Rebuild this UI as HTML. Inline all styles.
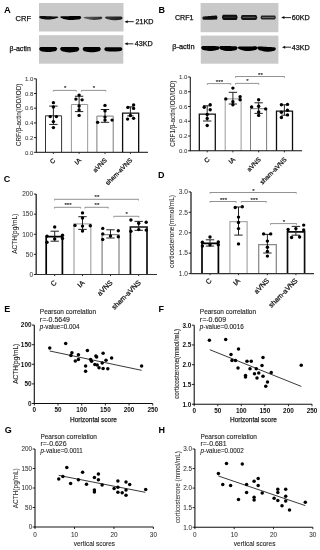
<!DOCTYPE html>
<html><head><meta charset="utf-8"><title>Figure</title>
<style>
html,body{margin:0;padding:0;background:#fff;}
svg{display:block;}
text{font-family:"Liberation Sans", Arial, sans-serif;}
</style></head><body>
<svg width="320" height="550" viewBox="0 0 320 550">
<defs><filter id="soft" x="0" y="0" width="100%" height="100%"><feGaussianBlur stdDeviation="0.3"/></filter><filter id="bl" x="-10%" y="-50%" width="120%" height="200%"><feGaussianBlur stdDeviation="0.6"/></filter><linearGradient id="g0" x1="0" x2="1" y1="0" y2="0"><stop offset="0" stop-color="#666666"/><stop offset="1" stop-color="#2a2a2a"/></linearGradient><linearGradient id="g1" x1="0" x2="1" y1="0" y2="0"><stop offset="0" stop-color="#3a3a3a"/><stop offset="1" stop-color="#1a1a1a"/></linearGradient><linearGradient id="g2" x1="0" x2="1" y1="0" y2="0"><stop offset="0" stop-color="#151515"/><stop offset="1" stop-color="#060606"/></linearGradient></defs>
<rect x="0" y="0" width="320" height="550" fill="#fff"/>
<g filter="url(#soft)">
<rect x="39" y="3" width="84.5" height="28.5" fill="#c9c9c9"/>
<rect x="39" y="35.2" width="84.3" height="28.5" fill="#c9c9c9"/>
<rect x="200.6" y="3" width="77.8" height="29.2" fill="#c9c9c9"/>
<rect x="200.8" y="35.6" width="77.6" height="28.1" fill="#c9c9c9"/>
<g filter="url(#bl)">
<polygon points="39.00,17.00 39.82,16.20 40.63,15.88 41.45,15.91 42.27,15.95 43.08,15.99 43.90,16.02 44.72,16.06 45.53,16.10 46.35,16.14 47.17,16.18 47.98,16.21 48.80,16.25 49.62,16.29 50.43,16.32 51.25,16.36 52.07,16.40 52.88,16.44 53.70,16.48 54.52,16.51 55.33,16.55 56.15,16.59 56.97,16.62 57.78,16.83 58.60,17.15 58.60,17.15 57.78,17.67 56.97,18.07 56.15,18.29 55.33,18.51 54.52,18.71 53.70,18.90 52.88,19.07 52.07,19.22 51.25,19.34 50.43,19.44 49.62,19.52 48.80,19.56 47.98,19.58 47.17,19.57 46.35,19.53 45.53,19.47 44.72,19.37 43.90,19.26 43.08,19.12 42.27,18.96 41.45,18.78 40.63,18.60 39.82,18.03 39.00,17.00" fill="#080808"/>
<polygon points="60.00,17.00 60.89,16.50 61.78,16.27 62.67,16.25 63.57,16.23 64.46,16.22 65.35,16.20 66.24,16.18 67.13,16.17 68.03,16.15 68.92,16.13 69.81,16.12 70.70,16.10 71.59,16.08 72.48,16.07 73.38,16.05 74.27,16.03 75.16,16.02 76.05,16.00 76.94,15.98 77.83,15.97 78.73,15.95 79.62,15.93 80.51,16.33 81.40,17.50 81.40,17.50 80.51,18.79 79.62,19.31 78.73,19.42 77.83,19.52 76.94,19.61 76.05,19.69 75.16,19.77 74.27,19.84 73.38,19.90 72.48,19.94 71.59,19.98 70.70,20.00 69.81,20.00 68.92,19.95 68.03,19.86 67.13,19.73 66.24,19.57 65.35,19.37 64.46,19.14 63.57,18.88 62.67,18.61 61.78,18.31 60.89,17.79 60.00,17.00" fill="#060606"/>
<polygon points="83.30,17.45 84.10,17.08 84.90,16.88 85.70,16.86 86.50,16.85 87.30,16.84 88.10,16.82 88.90,16.81 89.70,16.80 90.50,16.79 91.30,16.77 92.10,16.76 92.90,16.75 93.70,16.74 94.50,16.73 95.30,16.71 96.10,16.70 96.90,16.69 97.70,16.68 98.50,16.66 99.30,16.65 100.10,16.64 100.90,16.62 101.70,16.97 102.50,17.75 102.50,17.75 101.70,18.70 100.90,19.21 100.10,19.36 99.30,19.50 98.50,19.62 97.70,19.72 96.90,19.81 96.10,19.87 95.30,19.91 94.50,19.92 93.70,19.91 92.90,19.88 92.10,19.82 91.30,19.74 90.50,19.63 89.70,19.51 88.90,19.36 88.10,19.20 87.30,19.03 86.50,18.84 85.70,18.64 84.90,18.43 84.10,18.02 83.30,17.45" fill="url(#g0)"/>
<polygon points="104.70,17.40 105.45,16.89 106.20,16.62 106.95,16.59 107.70,16.58 108.45,16.58 109.20,16.58 109.95,16.57 110.70,16.57 111.45,16.56 112.20,16.56 112.95,16.55 113.70,16.55 114.45,16.55 115.20,16.54 115.95,16.54 116.70,16.53 117.45,16.53 118.20,16.52 118.95,16.52 119.70,16.52 120.45,16.51 121.20,16.56 121.95,16.98 122.70,17.95 122.70,17.95 121.95,19.04 121.20,19.59 120.45,19.75 119.70,19.86 118.95,19.95 118.20,20.04 117.45,20.11 116.70,20.17 115.95,20.21 115.20,20.24 114.45,20.25 113.70,20.23 112.95,20.18 112.20,20.11 111.45,20.01 110.70,19.88 109.95,19.72 109.20,19.55 108.45,19.36 107.70,19.15 106.95,18.92 106.20,18.65 105.45,18.15 104.70,17.40" fill="url(#g1)"/>
<polygon points="39.10,48.90 39.86,47.62 40.62,47.05 41.38,47.00 42.13,47.00 42.89,47.00 43.65,47.00 44.41,47.00 45.17,47.00 45.92,47.00 46.68,47.00 47.44,47.00 48.20,47.00 48.96,47.00 49.72,47.00 50.47,47.00 51.23,47.00 51.99,47.00 52.75,47.00 53.51,47.00 54.27,47.00 55.02,47.00 55.78,47.05 56.54,47.59 57.30,48.80 57.30,48.80 56.54,50.19 55.78,50.91 55.02,51.14 54.27,51.30 53.51,51.45 52.75,51.59 51.99,51.71 51.23,51.81 50.47,51.89 49.72,51.95 48.96,51.99 48.20,52.00 47.44,51.99 46.68,51.96 45.92,51.91 45.17,51.84 44.41,51.75 43.65,51.65 42.89,51.53 42.13,51.40 41.38,51.26 40.62,51.06 39.86,50.34 39.10,48.90" fill="#030303"/>
<polygon points="60.00,48.80 60.81,47.55 61.62,47.00 62.42,47.00 63.23,47.00 64.04,47.00 64.85,47.00 65.66,47.00 66.47,47.00 67.28,47.00 68.08,47.00 68.89,47.00 69.70,47.00 70.51,47.00 71.32,47.00 72.12,47.00 72.93,47.00 73.74,47.00 74.55,47.00 75.36,47.00 76.17,47.00 76.98,47.00 77.78,47.00 78.59,47.60 79.40,49.00 79.40,49.00 78.59,50.58 77.78,51.36 76.98,51.54 76.17,51.70 75.36,51.85 74.55,51.99 73.74,52.11 72.93,52.21 72.12,52.29 71.32,52.35 70.51,52.39 69.70,52.40 68.89,52.38 68.08,52.34 67.28,52.26 66.47,52.16 65.66,52.03 64.85,51.87 64.04,51.70 63.23,51.50 62.42,51.29 61.62,51.07 60.81,50.28 60.00,48.80" fill="#030303"/>
<polygon points="82.60,48.90 83.36,47.62 84.12,47.05 84.89,47.00 85.65,47.00 86.41,47.00 87.17,47.00 87.94,47.00 88.70,47.00 89.46,47.00 90.22,47.00 90.99,47.00 91.75,47.00 92.51,47.00 93.28,47.00 94.04,47.00 94.80,47.00 95.56,47.00 96.33,47.00 97.09,47.00 97.85,47.00 98.61,47.00 99.38,47.05 100.14,47.62 100.90,48.90 100.90,48.90 100.14,50.38 99.38,51.14 98.61,51.37 97.85,51.55 97.09,51.71 96.33,51.86 95.56,51.99 94.80,52.10 94.04,52.19 93.28,52.25 92.51,52.29 91.75,52.30 90.99,52.29 90.22,52.25 89.46,52.19 88.70,52.10 87.94,51.99 87.17,51.86 86.41,51.71 85.65,51.55 84.89,51.37 84.12,51.14 83.36,50.38 82.60,48.90" fill="#030303"/>
<polygon points="104.20,49.10 104.96,47.87 105.73,47.34 106.49,47.30 107.25,47.30 108.01,47.30 108.78,47.30 109.54,47.30 110.30,47.30 111.06,47.30 111.83,47.30 112.59,47.30 113.35,47.30 114.11,47.30 114.88,47.30 115.64,47.30 116.40,47.30 117.16,47.30 117.92,47.30 118.69,47.30 119.45,47.30 120.21,47.30 120.97,47.34 121.74,47.84 122.50,49.00 122.50,49.00 121.74,50.27 120.97,50.89 120.21,51.04 119.45,51.15 118.69,51.25 117.92,51.34 117.16,51.41 116.40,51.48 115.64,51.53 114.88,51.57 114.11,51.59 113.35,51.60 112.59,51.59 111.83,51.58 111.06,51.55 110.30,51.51 109.54,51.46 108.78,51.39 108.01,51.33 107.25,51.25 106.49,51.17 105.73,51.04 104.96,50.42 104.20,49.10" fill="#050505"/>
<polygon points="202.20,18.10 202.84,16.86 203.47,16.50 204.11,16.45 204.75,16.40 205.39,16.35 206.02,16.30 206.66,16.25 207.30,16.20 207.94,16.15 208.57,16.10 209.21,16.05 209.85,16.00 210.49,15.95 211.12,15.90 211.76,15.85 212.40,15.80 213.04,15.75 213.68,15.70 214.31,15.65 214.95,15.60 215.59,15.55 216.22,15.50 216.86,15.87 217.50,17.55 217.50,17.55 216.86,19.24 216.22,19.63 215.59,19.61 214.95,19.59 214.31,19.60 213.68,19.61 213.04,19.65 212.40,19.70 211.76,19.74 211.12,19.77 210.49,19.79 209.85,19.81 209.21,19.82 208.57,19.82 207.94,19.82 207.30,19.81 206.66,19.80 206.02,19.78 205.39,19.76 204.75,19.73 204.11,19.70 203.47,19.67 202.84,19.32 202.20,18.10" fill="url(#g2)"/>
<polygon points="221.90,17.30 222.55,15.28 223.21,14.80 223.86,14.80 224.52,14.80 225.17,14.80 225.82,14.80 226.48,14.80 227.13,14.80 227.79,14.80 228.44,14.80 229.10,14.80 229.75,14.80 230.40,14.80 231.06,14.80 231.71,14.80 232.37,14.80 233.02,14.80 233.68,14.80 234.33,14.80 234.98,14.80 235.64,14.80 236.29,14.80 236.95,15.29 237.60,17.35 237.60,17.35 236.95,19.42 236.29,19.93 235.64,19.94 234.98,19.95 234.33,19.96 233.68,19.97 233.02,19.98 232.37,19.99 231.71,19.99 231.06,20.00 230.40,20.00 229.75,20.00 229.10,20.00 228.44,19.99 227.79,19.98 227.13,19.97 226.48,19.96 225.82,19.94 225.17,19.92 224.52,19.90 223.86,19.88 223.21,19.85 222.55,19.35 221.90,17.30" fill="#0a0a0a"/>
<polygon points="240.80,17.40 241.49,15.41 242.18,15.00 242.86,15.00 243.55,15.00 244.24,15.00 244.93,15.00 245.61,15.00 246.30,15.00 246.99,15.00 247.68,15.00 248.36,15.00 249.05,15.00 249.74,15.00 250.43,15.00 251.11,15.00 251.80,15.00 252.49,15.00 253.18,15.00 253.86,15.00 254.55,15.00 255.24,15.00 255.93,15.00 256.61,15.41 257.30,17.40 257.30,17.40 256.61,19.41 255.93,19.85 255.24,19.88 254.55,19.90 253.86,19.92 253.18,19.94 252.49,19.96 251.80,19.97 251.11,19.98 250.43,19.99 249.74,20.00 249.05,20.00 248.36,20.00 247.68,19.99 246.99,19.98 246.30,19.97 245.61,19.96 244.93,19.94 244.24,19.92 243.55,19.90 242.86,19.88 242.18,19.85 241.49,19.41 240.80,17.40" fill="#141414"/>
<polygon points="260.50,17.40 261.14,15.80 261.78,15.40 262.43,15.40 263.07,15.40 263.71,15.40 264.35,15.40 264.99,15.40 265.63,15.40 266.27,15.40 266.92,15.40 267.56,15.40 268.20,15.40 268.84,15.40 269.48,15.40 270.12,15.40 270.77,15.40 271.41,15.40 272.05,15.40 272.69,15.40 273.33,15.40 273.97,15.40 274.62,15.40 275.26,15.81 275.90,17.45 275.90,17.45 275.26,19.10 274.62,19.53 273.97,19.54 273.33,19.55 272.69,19.56 272.05,19.57 271.41,19.58 270.77,19.59 270.12,19.59 269.48,19.60 268.84,19.60 268.20,19.60 267.56,19.60 266.92,19.59 266.27,19.58 265.63,19.57 264.99,19.56 264.35,19.54 263.71,19.52 263.07,19.50 262.43,19.48 261.78,19.45 261.14,19.03 260.50,17.40" fill="#262626"/>
<polygon points="201.00,47.70 201.78,46.48 202.57,45.95 203.35,45.94 204.13,45.95 204.92,45.96 205.70,45.98 206.48,45.99 207.27,46.00 208.05,46.01 208.83,46.02 209.62,46.04 210.40,46.05 211.18,46.06 211.97,46.08 212.75,46.09 213.53,46.10 214.32,46.11 215.10,46.12 215.88,46.14 216.67,46.15 217.45,46.16 218.23,46.19 219.02,46.68 219.80,47.70 219.80,47.70 219.02,48.95 218.23,49.65 217.45,49.89 216.67,50.10 215.88,50.29 215.10,50.47 214.32,50.62 213.53,50.75 212.75,50.84 211.97,50.91 211.18,50.95 210.40,50.95 209.62,50.93 208.83,50.88 208.05,50.81 207.27,50.73 206.48,50.62 205.70,50.49 204.92,50.35 204.13,50.20 203.35,50.03 202.57,49.84 201.78,49.12 201.00,47.70" fill="#030303"/>
<polygon points="219.00,47.50 219.78,46.50 220.55,46.04 221.32,46.02 222.10,46.03 222.88,46.04 223.65,46.05 224.43,46.06 225.20,46.07 225.97,46.08 226.75,46.08 227.53,46.09 228.30,46.10 229.07,46.11 229.85,46.12 230.62,46.12 231.40,46.13 232.18,46.14 232.95,46.15 233.72,46.16 234.50,46.17 235.28,46.18 236.05,46.21 236.82,46.77 237.60,48.00 237.60,48.00 236.82,49.40 236.05,50.11 235.28,50.31 234.50,50.47 233.72,50.61 232.95,50.74 232.18,50.85 231.40,50.95 230.62,51.02 229.85,51.07 229.07,51.10 228.30,51.10 227.53,51.07 226.75,51.02 225.97,50.92 225.20,50.80 224.43,50.65 223.65,50.46 222.88,50.26 222.10,50.03 221.32,49.79 220.55,49.51 219.78,48.77 219.00,47.50" fill="#030303"/>
<polygon points="237.40,47.50 238.24,46.88 239.08,46.58 239.93,46.56 240.77,46.55 241.61,46.54 242.45,46.52 243.29,46.51 244.13,46.50 244.98,46.49 245.82,46.48 246.66,46.46 247.50,46.45 248.34,46.44 249.18,46.42 250.03,46.41 250.87,46.40 251.71,46.39 252.55,46.38 253.39,46.36 254.23,46.35 255.08,46.34 255.92,46.32 256.76,46.78 257.60,47.90 257.60,47.90 256.76,49.23 255.92,49.89 255.08,50.07 254.23,50.25 253.39,50.41 252.55,50.56 251.71,50.70 250.87,50.81 250.03,50.91 249.18,50.98 248.34,51.03 247.50,51.05 246.66,51.04 245.82,50.98 244.98,50.87 244.13,50.72 243.29,50.53 242.45,50.30 241.61,50.04 240.77,49.75 239.93,49.43 239.08,49.10 238.24,48.46 237.40,47.50" fill="#030303"/>
<polygon points="257.00,47.80 257.79,46.83 258.58,46.40 259.38,46.44 260.17,46.48 260.96,46.53 261.75,46.57 262.54,46.62 263.33,46.67 264.12,46.71 264.92,46.76 265.71,46.80 266.50,46.85 267.29,46.90 268.08,46.94 268.88,46.99 269.67,47.03 270.46,47.08 271.25,47.12 272.04,47.17 272.83,47.22 273.62,47.26 274.42,47.32 275.21,47.83 276.00,48.90 276.00,48.90 275.21,50.11 274.42,50.77 273.62,50.95 272.83,51.12 272.04,51.27 271.25,51.40 270.46,51.51 269.67,51.59 268.88,51.65 268.08,51.68 267.29,51.68 266.50,51.65 265.71,51.59 264.92,51.50 264.12,51.38 263.33,51.23 262.54,51.05 261.75,50.85 260.96,50.62 260.17,50.38 259.38,50.13 258.58,49.85 257.79,49.10 257.00,47.80" fill="#030303"/>
</g>
<rect x="223.5" y="16.75" width="12.5" height="1.1" rx="0.5" fill="#3a3a3a" opacity="0.85" filter="url(#bl)"/>
<rect x="242.5" y="16.849999999999998" width="13.0" height="1.1" rx="0.5" fill="#5a5a5a" opacity="0.85" filter="url(#bl)"/>
<rect x="262" y="16.95" width="12.5" height="1.1" rx="0.5" fill="#707070" opacity="0.85" filter="url(#bl)"/>
<text x="4.1" y="12.7" font-size="9.4" text-anchor="start" font-weight="bold" fill="#000">A</text>
<text x="15.6" y="20.6" font-size="7.5" text-anchor="start" fill="#111" stroke="#111" stroke-width="0.25">CRF</text>
<text x="9.6" y="50.6" font-size="7.3" text-anchor="start" fill="#111" stroke="#111" stroke-width="0.25" textLength="21.2" lengthAdjust="spacingAndGlyphs">β-actin</text>
<line x1="127.0" y1="21.65" x2="133.8" y2="21.65" stroke="#111" stroke-width="0.9"/>
<polygon points="124.5,21.65 127.7,20.15 127.7,23.15" fill="#111"/>
<text x="135.4" y="23.8" font-size="7.2" text-anchor="start" fill="#111" stroke="#111" stroke-width="0.25">21KD</text>
<line x1="127.0" y1="43.8" x2="133.3" y2="43.8" stroke="#111" stroke-width="0.9"/>
<polygon points="124.5,43.8 127.7,42.3 127.7,45.3" fill="#111"/>
<text x="134.8" y="46.0" font-size="7.2" text-anchor="start" fill="#111" stroke="#111" stroke-width="0.25">43KD</text>
<text x="158.6" y="12.6" font-size="9" text-anchor="start" font-weight="bold" fill="#000">B</text>
<text x="175.0" y="20.2" font-size="7.1" text-anchor="start" fill="#111" stroke="#111" stroke-width="0.25">CRF1</text>
<text x="172.2" y="48.7" font-size="7.4" text-anchor="start" fill="#111" stroke="#111" stroke-width="0.25">β-actin</text>
<line x1="283.7" y1="17.6" x2="291" y2="17.6" stroke="#111" stroke-width="0.9"/>
<polygon points="281.2,17.6 284.4,16.1 284.4,19.1" fill="#111"/>
<text x="291.7" y="19.8" font-size="7.2" text-anchor="start" fill="#111" stroke="#111" stroke-width="0.25">60KD</text>
<line x1="284.5" y1="47.2" x2="291" y2="47.2" stroke="#111" stroke-width="0.9"/>
<polygon points="282,47.2 285.2,45.7 285.2,48.7" fill="#111"/>
<text x="291.7" y="49.6" font-size="7.2" text-anchor="start" fill="#111" stroke="#111" stroke-width="0.25">43KD</text>
<polyline points="53.3,91.60000000000001 53.3,90.4 76.3,90.4 76.3,91.60000000000001" fill="none" stroke="#777" stroke-width="0.8"/>
<text x="65.2" y="90.4" font-size="6.2" text-anchor="middle" fill="#222" stroke="#222" stroke-width="0.15">*</text>
<polyline points="81.5,91.60000000000001 81.5,90.4 105.8,90.4 105.8,91.60000000000001" fill="none" stroke="#777" stroke-width="0.8"/>
<text x="94.05000000000001" y="90.4" font-size="6.2" text-anchor="middle" fill="#222" stroke="#222" stroke-width="0.15">*</text>
<line x1="36.3" y1="78.8" x2="36.3" y2="152.8" stroke="#111" stroke-width="1.0"/>
<line x1="34.0" y1="152.3" x2="36.3" y2="152.3" stroke="#111" stroke-width="0.9"/>
<text x="33.3" y="154.5" font-size="6.0" text-anchor="end" fill="#3a3a3a" stroke="#3a3a3a" stroke-width="0.05">0.0</text>
<line x1="34.0" y1="137.60000000000002" x2="36.3" y2="137.60000000000002" stroke="#111" stroke-width="0.9"/>
<text x="33.3" y="139.8" font-size="6.0" text-anchor="end" fill="#3a3a3a" stroke="#3a3a3a" stroke-width="0.05">0.2</text>
<line x1="34.0" y1="122.9" x2="36.3" y2="122.9" stroke="#111" stroke-width="0.9"/>
<text x="33.3" y="125.10000000000001" font-size="6.0" text-anchor="end" fill="#3a3a3a" stroke="#3a3a3a" stroke-width="0.05">0.4</text>
<line x1="34.0" y1="108.2" x2="36.3" y2="108.2" stroke="#111" stroke-width="0.9"/>
<text x="33.3" y="110.4" font-size="6.0" text-anchor="end" fill="#3a3a3a" stroke="#3a3a3a" stroke-width="0.05">0.6</text>
<line x1="34.0" y1="93.5" x2="36.3" y2="93.5" stroke="#111" stroke-width="0.9"/>
<text x="33.3" y="95.7" font-size="6.0" text-anchor="end" fill="#3a3a3a" stroke="#3a3a3a" stroke-width="0.05">0.8</text>
<line x1="34.0" y1="78.8" x2="36.3" y2="78.8" stroke="#111" stroke-width="0.9"/>
<text x="33.3" y="81.0" font-size="6.0" text-anchor="end" fill="#3a3a3a" stroke="#3a3a3a" stroke-width="0.05">1.0</text>
<line x1="53.4" y1="152.3" x2="53.4" y2="153.9" stroke="#111" stroke-width="0.9"/>
<line x1="79.1" y1="152.3" x2="79.1" y2="153.9" stroke="#111" stroke-width="0.9"/>
<line x1="105" y1="152.3" x2="105" y2="153.9" stroke="#111" stroke-width="0.9"/>
<line x1="130.4" y1="152.3" x2="130.4" y2="153.9" stroke="#111" stroke-width="0.9"/>
<path d="M45.5,152.3 L45.5,115.8 L61.6,115.8 L61.6,152.3" fill="#fff" stroke="#333" stroke-width="1.0" stroke-linejoin="miter"/>
<path d="M71.4,152.3 L71.4,104.5 L87.65,104.5 L87.65,152.3" fill="#fff" stroke="#9a9a9a" stroke-width="1.0" stroke-linejoin="miter"/>
<path d="M96.9,152.3 L96.9,116.1 L113.2,116.1 L113.2,152.3" fill="#fff" stroke="#7a7a7a" stroke-width="1.0" stroke-linejoin="miter"/>
<path d="M122.6,152.3 L122.6,113.1 L138.65,113.1 L138.65,152.3" fill="#fff" stroke="#111" stroke-width="1.3" stroke-linejoin="miter"/>
<line x1="36.3" y1="152.3" x2="148" y2="152.3" stroke="#111" stroke-width="1.0"/>
<line x1="53.4" y1="106.1" x2="53.4" y2="124.4" stroke="#222" stroke-width="1.0"/>
<line x1="49.199999999999996" y1="106.1" x2="57.6" y2="106.1" stroke="#222" stroke-width="1.0"/>
<line x1="49.199999999999996" y1="124.4" x2="57.6" y2="124.4" stroke="#222" stroke-width="1.0"/>
<circle cx="53.4" cy="102.65" r="1.7" fill="#000"/>
<circle cx="53.4" cy="107" r="1.7" fill="#000"/>
<circle cx="50.25" cy="116.6" r="1.7" fill="#000"/>
<circle cx="56.4" cy="116.6" r="1.7" fill="#000"/>
<circle cx="53.4" cy="121.6" r="1.7" fill="#000"/>
<circle cx="53.4" cy="127.6" r="1.7" fill="#000"/>
<line x1="79.1" y1="96.25" x2="79.1" y2="111.6" stroke="#222" stroke-width="1.0"/>
<line x1="74.89999999999999" y1="96.25" x2="83.3" y2="96.25" stroke="#222" stroke-width="1.0"/>
<line x1="74.89999999999999" y1="111.6" x2="83.3" y2="111.6" stroke="#222" stroke-width="1.0"/>
<circle cx="79.1" cy="95.1" r="1.7" fill="#000"/>
<circle cx="75.9" cy="99.1" r="1.7" fill="#000"/>
<circle cx="82.1" cy="99.85" r="1.7" fill="#000"/>
<circle cx="79.1" cy="106" r="1.7" fill="#000"/>
<circle cx="79.1" cy="109.9" r="1.7" fill="#000"/>
<circle cx="79.1" cy="115.4" r="1.7" fill="#000"/>
<line x1="105" y1="109.5" x2="105" y2="122.3" stroke="#222" stroke-width="1.0"/>
<line x1="100.8" y1="109.5" x2="109.2" y2="109.5" stroke="#222" stroke-width="1.0"/>
<line x1="100.8" y1="122.3" x2="109.2" y2="122.3" stroke="#222" stroke-width="1.0"/>
<circle cx="105" cy="105.4" r="1.7" fill="#000"/>
<circle cx="105" cy="110.9" r="1.7" fill="#000"/>
<circle cx="105" cy="117.1" r="1.7" fill="#000"/>
<circle cx="105" cy="120.1" r="1.7" fill="#000"/>
<circle cx="97.65" cy="122.35" r="1.7" fill="#000"/>
<circle cx="112.1" cy="120.1" r="1.7" fill="#000"/>
<line x1="130.4" y1="106.9" x2="130.4" y2="115.9" stroke="#222" stroke-width="1.0"/>
<line x1="127.2" y1="106.9" x2="133.6" y2="106.9" stroke="#222" stroke-width="1.0"/>
<line x1="127.2" y1="115.9" x2="133.6" y2="115.9" stroke="#222" stroke-width="1.0"/>
<circle cx="127.85" cy="107.4" r="1.7" fill="#000"/>
<circle cx="133.6" cy="105" r="1.7" fill="#000"/>
<circle cx="133.6" cy="108.4" r="1.7" fill="#000"/>
<circle cx="130.4" cy="115.5" r="1.7" fill="#000"/>
<circle cx="127.6" cy="119.1" r="1.7" fill="#000"/>
<circle cx="133.6" cy="118.35" r="1.7" fill="#000"/>
<text x="20.7" y="114.85" font-size="6.35" text-anchor="middle" fill="#222" stroke="#222" stroke-width="0.06" transform="rotate(-90 20.7 114.85)">CRF/β-actin(IOD/IOD)</text>
<text x="55.8" y="160.8" font-size="6.5" text-anchor="end" fill="#111" stroke="#111" stroke-width="0.25" transform="rotate(-45 55.8 160.8)">C</text>
<text x="81.5" y="160.8" font-size="6.5" text-anchor="end" fill="#111" stroke="#111" stroke-width="0.25" transform="rotate(-45 81.5 160.8)">IA</text>
<text x="107.4" y="160.8" font-size="6.5" text-anchor="end" fill="#111" stroke="#111" stroke-width="0.25" transform="rotate(-45 107.4 160.8)">aVNS</text>
<text x="132.8" y="160.8" font-size="6.5" text-anchor="end" fill="#111" stroke="#111" stroke-width="0.25" transform="rotate(-45 132.8 160.8)">sham-aVNS</text>
<polyline points="207.3,84.8 207.3,83.6 230.8,83.6 230.8,84.8" fill="none" stroke="#777" stroke-width="0.8"/>
<text x="219.45000000000002" y="83.6" font-size="6.2" text-anchor="middle" fill="#222" stroke="#222" stroke-width="0.15">***</text>
<polyline points="235.5,84.60000000000001 235.5,83.4 258.8,83.4 258.8,84.60000000000001" fill="none" stroke="#777" stroke-width="0.8"/>
<text x="247.55" y="83.4" font-size="6.2" text-anchor="middle" fill="#222" stroke="#222" stroke-width="0.15">*</text>
<polyline points="235.5,77.7 235.5,76.5 284.5,76.5 284.5,77.7" fill="none" stroke="#777" stroke-width="0.8"/>
<text x="260.4" y="76.5" font-size="6.2" text-anchor="middle" fill="#222" stroke="#222" stroke-width="0.15">**</text>
<line x1="190.3" y1="77.0" x2="190.3" y2="151.25" stroke="#111" stroke-width="1.0"/>
<line x1="188.0" y1="150.75" x2="190.3" y2="150.75" stroke="#111" stroke-width="0.9"/>
<text x="187.3" y="152.95" font-size="6.0" text-anchor="end" fill="#3a3a3a" stroke="#3a3a3a" stroke-width="0.05">0.0</text>
<line x1="188.0" y1="136.0" x2="190.3" y2="136.0" stroke="#111" stroke-width="0.9"/>
<text x="187.3" y="138.2" font-size="6.0" text-anchor="end" fill="#3a3a3a" stroke="#3a3a3a" stroke-width="0.05">0.2</text>
<line x1="188.0" y1="121.25" x2="190.3" y2="121.25" stroke="#111" stroke-width="0.9"/>
<text x="187.3" y="123.45" font-size="6.0" text-anchor="end" fill="#3a3a3a" stroke="#3a3a3a" stroke-width="0.05">0.4</text>
<line x1="188.0" y1="106.5" x2="190.3" y2="106.5" stroke="#111" stroke-width="0.9"/>
<text x="187.3" y="108.7" font-size="6.0" text-anchor="end" fill="#3a3a3a" stroke="#3a3a3a" stroke-width="0.05">0.6</text>
<line x1="188.0" y1="91.75" x2="190.3" y2="91.75" stroke="#111" stroke-width="0.9"/>
<text x="187.3" y="93.95" font-size="6.0" text-anchor="end" fill="#3a3a3a" stroke="#3a3a3a" stroke-width="0.05">0.8</text>
<line x1="188.0" y1="77.0" x2="190.3" y2="77.0" stroke="#111" stroke-width="0.9"/>
<text x="187.3" y="79.2" font-size="6.0" text-anchor="end" fill="#3a3a3a" stroke="#3a3a3a" stroke-width="0.05">1.0</text>
<line x1="207.2" y1="150.75" x2="207.2" y2="152.35" stroke="#111" stroke-width="0.9"/>
<line x1="232.9" y1="150.75" x2="232.9" y2="152.35" stroke="#111" stroke-width="0.9"/>
<line x1="258.65" y1="150.75" x2="258.65" y2="152.35" stroke="#111" stroke-width="0.9"/>
<line x1="284.4" y1="150.75" x2="284.4" y2="152.35" stroke="#111" stroke-width="0.9"/>
<path d="M199.3,150.75 L199.3,114.2 L215.3,114.2 L215.3,150.75" fill="#fff" stroke="#111" stroke-width="1.3" stroke-linejoin="miter"/>
<path d="M225.2,150.75 L225.2,98.9 L241.1,98.9 L241.1,150.75" fill="#fff" stroke="#9a9a9a" stroke-width="1.0" stroke-linejoin="miter"/>
<path d="M250.5,150.75 L250.5,108.7 L266.6,108.7 L266.6,150.75" fill="#fff" stroke="#7a7a7a" stroke-width="1.0" stroke-linejoin="miter"/>
<path d="M276.5,150.75 L276.5,111.1 L292.5,111.1 L292.5,150.75" fill="#fff" stroke="#111" stroke-width="1.3" stroke-linejoin="miter"/>
<line x1="190.3" y1="150.75" x2="302" y2="150.75" stroke="#111" stroke-width="1.0"/>
<line x1="207.2" y1="105.8" x2="207.2" y2="121" stroke="#222" stroke-width="1.0"/>
<line x1="203.0" y1="105.8" x2="211.39999999999998" y2="105.8" stroke="#222" stroke-width="1.0"/>
<line x1="203.0" y1="121" x2="211.39999999999998" y2="121" stroke="#222" stroke-width="1.0"/>
<circle cx="204.2" cy="107.2" r="1.7" fill="#000"/>
<circle cx="210.2" cy="104.7" r="1.7" fill="#000"/>
<circle cx="210.2" cy="109.8" r="1.7" fill="#000"/>
<circle cx="207.2" cy="114.5" r="1.7" fill="#000"/>
<circle cx="207.2" cy="118.4" r="1.7" fill="#000"/>
<circle cx="207.2" cy="125.5" r="1.7" fill="#000"/>
<line x1="232.9" y1="92.3" x2="232.9" y2="104" stroke="#222" stroke-width="1.0"/>
<line x1="228.70000000000002" y1="92.3" x2="237.1" y2="92.3" stroke="#222" stroke-width="1.0"/>
<line x1="228.70000000000002" y1="104" x2="237.1" y2="104" stroke="#222" stroke-width="1.0"/>
<circle cx="232.9" cy="88.1" r="1.7" fill="#000"/>
<circle cx="225.8" cy="98.9" r="1.7" fill="#000"/>
<circle cx="240.1" cy="96.8" r="1.7" fill="#000"/>
<circle cx="240.1" cy="99.8" r="1.7" fill="#000"/>
<circle cx="232.9" cy="101.7" r="1.7" fill="#000"/>
<circle cx="232.9" cy="104.8" r="1.7" fill="#000"/>
<line x1="258.65" y1="102.8" x2="258.65" y2="113.4" stroke="#222" stroke-width="1.0"/>
<line x1="254.45" y1="102.8" x2="262.84999999999997" y2="102.8" stroke="#222" stroke-width="1.0"/>
<line x1="254.45" y1="113.4" x2="262.84999999999997" y2="113.4" stroke="#222" stroke-width="1.0"/>
<circle cx="258.65" cy="99.7" r="1.7" fill="#000"/>
<circle cx="258.65" cy="106.2" r="1.7" fill="#000"/>
<circle cx="251.6" cy="107" r="1.7" fill="#000"/>
<circle cx="265.7" cy="108.9" r="1.7" fill="#000"/>
<circle cx="258.65" cy="111.9" r="1.7" fill="#000"/>
<circle cx="258.65" cy="115.4" r="1.7" fill="#000"/>
<line x1="284.4" y1="104.8" x2="284.4" y2="115.2" stroke="#222" stroke-width="1.0"/>
<line x1="281.29999999999995" y1="104.8" x2="287.5" y2="104.8" stroke="#222" stroke-width="1.0"/>
<line x1="281.29999999999995" y1="115.2" x2="287.5" y2="115.2" stroke="#222" stroke-width="1.0"/>
<circle cx="281.4" cy="104.8" r="1.7" fill="#000"/>
<circle cx="287.5" cy="104.4" r="1.7" fill="#000"/>
<circle cx="287.5" cy="110.2" r="1.7" fill="#000"/>
<circle cx="281.4" cy="112.3" r="1.7" fill="#000"/>
<circle cx="287.5" cy="114.9" r="1.7" fill="#000"/>
<circle cx="281.4" cy="117.5" r="1.7" fill="#000"/>
<text x="174.9" y="113.6" font-size="6.35" text-anchor="middle" fill="#222" stroke="#222" stroke-width="0.06" transform="rotate(-90 174.9 113.6)">CRF1/β-actin(IOD/IOD)</text>
<text x="210.0" y="160.0" font-size="6.5" text-anchor="end" fill="#111" stroke="#111" stroke-width="0.25" transform="rotate(-45 210.0 160.0)">C</text>
<text x="235.7" y="160.0" font-size="6.5" text-anchor="end" fill="#111" stroke="#111" stroke-width="0.25" transform="rotate(-45 235.7 160.0)">IA</text>
<text x="261.45" y="160.0" font-size="6.5" text-anchor="end" fill="#111" stroke="#111" stroke-width="0.25" transform="rotate(-45 261.45 160.0)">aVNS</text>
<text x="287.2" y="160.0" font-size="6.5" text-anchor="end" fill="#111" stroke="#111" stroke-width="0.25" transform="rotate(-45 287.2 160.0)">sham-aVNS</text>
<polyline points="54.5,200.5 54.5,199.3 138.5,199.3 138.5,200.5" fill="none" stroke="#777" stroke-width="0.8"/>
<text x="96.9" y="199.3" font-size="6.2" text-anchor="middle" fill="#222" stroke="#222" stroke-width="0.15">**</text>
<polyline points="54.5,208.5 54.5,207.3 80.7,207.3 80.7,208.5" fill="none" stroke="#777" stroke-width="0.8"/>
<text x="68.0" y="207.3" font-size="6.2" text-anchor="middle" fill="#222" stroke="#222" stroke-width="0.15">***</text>
<polyline points="84.9,208.5 84.9,207.3 108.3,207.3 108.3,208.5" fill="none" stroke="#777" stroke-width="0.8"/>
<text x="97.0" y="207.3" font-size="6.2" text-anchor="middle" fill="#222" stroke="#222" stroke-width="0.15">**</text>
<polyline points="113.8,217.5 113.8,216.3 138.9,216.3 138.9,217.5" fill="none" stroke="#777" stroke-width="0.8"/>
<text x="126.75" y="216.3" font-size="6.2" text-anchor="middle" fill="#222" stroke="#222" stroke-width="0.15">*</text>
<line x1="36.2" y1="194.1" x2="36.2" y2="275.0" stroke="#333" stroke-width="1.4"/>
<line x1="33.900000000000006" y1="274.5" x2="36.2" y2="274.5" stroke="#111" stroke-width="0.9"/>
<text x="33.2" y="276.7" font-size="6.6" text-anchor="end" fill="#3a3a3a" stroke="#3a3a3a" stroke-width="0.05">0</text>
<line x1="33.900000000000006" y1="254.4" x2="36.2" y2="254.4" stroke="#111" stroke-width="0.9"/>
<text x="33.2" y="256.6" font-size="6.6" text-anchor="end" fill="#3a3a3a" stroke="#3a3a3a" stroke-width="0.05">50</text>
<line x1="33.900000000000006" y1="234.3" x2="36.2" y2="234.3" stroke="#111" stroke-width="0.9"/>
<text x="33.2" y="236.5" font-size="6.6" text-anchor="end" fill="#3a3a3a" stroke="#3a3a3a" stroke-width="0.05">100</text>
<line x1="33.900000000000006" y1="214.2" x2="36.2" y2="214.2" stroke="#111" stroke-width="0.9"/>
<text x="33.2" y="216.39999999999998" font-size="6.6" text-anchor="end" fill="#3a3a3a" stroke="#3a3a3a" stroke-width="0.05">150</text>
<line x1="33.900000000000006" y1="194.1" x2="36.2" y2="194.1" stroke="#111" stroke-width="0.9"/>
<text x="33.2" y="196.29999999999998" font-size="6.6" text-anchor="end" fill="#3a3a3a" stroke="#3a3a3a" stroke-width="0.05">200</text>
<line x1="54.7" y1="274.5" x2="54.7" y2="276.1" stroke="#111" stroke-width="0.9"/>
<line x1="82.5" y1="274.5" x2="82.5" y2="276.1" stroke="#111" stroke-width="0.9"/>
<line x1="110.5" y1="274.5" x2="110.5" y2="276.1" stroke="#111" stroke-width="0.9"/>
<line x1="138.7" y1="274.5" x2="138.7" y2="276.1" stroke="#111" stroke-width="0.9"/>
<path d="M46.2,274.5 L46.2,236.6 L62.4,236.6 L62.4,274.5" fill="#fff" stroke="#000" stroke-width="1.7" stroke-linejoin="miter"/>
<path d="M74.0,274.5 L74.0,223.9 L90.8,223.9 L90.8,274.5" fill="#fff" stroke="#aaa" stroke-width="1.25" stroke-linejoin="miter"/>
<path d="M102.1,274.5 L102.1,234.5 L119,234.5 L119,274.5" fill="#fff" stroke="#888" stroke-width="1.25" stroke-linejoin="miter"/>
<path d="M130.4,274.5 L130.4,227 L147.0,227 L147.0,274.5" fill="#fff" stroke="#111" stroke-width="1.7" stroke-linejoin="miter"/>
<line x1="36.2" y1="274.5" x2="157" y2="274.5" stroke="#333" stroke-width="1.1"/>
<line x1="54.7" y1="231.2" x2="54.7" y2="241.2" stroke="#222" stroke-width="1.0"/>
<line x1="50.5" y1="231.2" x2="58.900000000000006" y2="231.2" stroke="#222" stroke-width="1.0"/>
<line x1="50.5" y1="241.2" x2="58.900000000000006" y2="241.2" stroke="#222" stroke-width="1.0"/>
<circle cx="54.7" cy="227" r="1.7" fill="#000"/>
<circle cx="47" cy="236.1" r="1.7" fill="#000"/>
<circle cx="62.5" cy="235.2" r="1.7" fill="#000"/>
<circle cx="62.5" cy="238.4" r="1.7" fill="#000"/>
<circle cx="54.7" cy="238.9" r="1.7" fill="#000"/>
<circle cx="47" cy="242.2" r="1.7" fill="#000"/>
<line x1="82.5" y1="216.7" x2="82.5" y2="229.4" stroke="#222" stroke-width="1.0"/>
<line x1="78.3" y1="216.7" x2="86.7" y2="216.7" stroke="#222" stroke-width="1.0"/>
<line x1="78.3" y1="229.4" x2="86.7" y2="229.4" stroke="#222" stroke-width="1.0"/>
<circle cx="82.5" cy="212.9" r="1.7" fill="#000"/>
<circle cx="82.5" cy="218" r="1.7" fill="#000"/>
<circle cx="75" cy="225.4" r="1.7" fill="#000"/>
<circle cx="82.5" cy="226.1" r="1.7" fill="#000"/>
<circle cx="90.3" cy="225.8" r="1.7" fill="#000"/>
<circle cx="82.5" cy="231.1" r="1.7" fill="#000"/>
<line x1="110.5" y1="229.8" x2="110.5" y2="238" stroke="#222" stroke-width="1.0"/>
<line x1="106.3" y1="229.8" x2="114.7" y2="229.8" stroke="#222" stroke-width="1.0"/>
<line x1="106.3" y1="238" x2="114.7" y2="238" stroke="#222" stroke-width="1.0"/>
<circle cx="102.75" cy="228.4" r="1.7" fill="#000"/>
<circle cx="102.75" cy="233.9" r="1.7" fill="#000"/>
<circle cx="102.75" cy="239.5" r="1.7" fill="#000"/>
<circle cx="110.5" cy="235.9" r="1.7" fill="#000"/>
<circle cx="118.3" cy="230.8" r="1.7" fill="#000"/>
<circle cx="118.3" cy="236.7" r="1.7" fill="#000"/>
<line x1="138.7" y1="221.4" x2="138.7" y2="230.3" stroke="#222" stroke-width="1.0"/>
<line x1="134.5" y1="221.4" x2="142.89999999999998" y2="221.4" stroke="#222" stroke-width="1.0"/>
<line x1="134.5" y1="230.3" x2="142.89999999999998" y2="230.3" stroke="#222" stroke-width="1.0"/>
<circle cx="130.9" cy="220" r="1.7" fill="#000"/>
<circle cx="138.7" cy="223.3" r="1.7" fill="#000"/>
<circle cx="146.2" cy="222.3" r="1.7" fill="#000"/>
<circle cx="138.7" cy="229.6" r="1.7" fill="#000"/>
<circle cx="130.9" cy="231.2" r="1.7" fill="#000"/>
<circle cx="146.2" cy="230.1" r="1.7" fill="#000"/>
<text x="17.3" y="233.8" font-size="6.5" text-anchor="middle" fill="#222" stroke="#222" stroke-width="0.06" transform="rotate(-90 17.3 233.8)">ACTH(pg/mL)</text>
<text x="57.2" y="283.2" font-size="7.0" text-anchor="end" fill="#111" stroke="#111" stroke-width="0.25" transform="rotate(-45 57.2 283.2)">C</text>
<text x="85.0" y="283.2" font-size="7.0" text-anchor="end" fill="#111" stroke="#111" stroke-width="0.25" transform="rotate(-45 85.0 283.2)">IA</text>
<text x="113.0" y="283.2" font-size="7.0" text-anchor="end" fill="#111" stroke="#111" stroke-width="0.25" transform="rotate(-45 113.0 283.2)">aVNS</text>
<text x="141.2" y="283.2" font-size="7.0" text-anchor="end" fill="#111" stroke="#111" stroke-width="0.25" transform="rotate(-45 141.2 283.2)">sham-aVNS</text>
<polyline points="210,193.7 210,192.5 296.3,192.5 296.3,193.7" fill="none" stroke="#777" stroke-width="0.8"/>
<text x="253.55" y="192.5" font-size="6.2" text-anchor="middle" fill="#222" stroke="#222" stroke-width="0.15">*</text>
<polyline points="210,202.7 210,201.5 236.2,201.5 236.2,202.7" fill="none" stroke="#777" stroke-width="0.8"/>
<text x="223.5" y="201.5" font-size="6.2" text-anchor="middle" fill="#222" stroke="#222" stroke-width="0.15">***</text>
<polyline points="241.3,202.7 241.3,201.5 266.3,201.5 266.3,202.7" fill="none" stroke="#777" stroke-width="0.8"/>
<text x="254.20000000000002" y="201.5" font-size="6.2" text-anchor="middle" fill="#222" stroke="#222" stroke-width="0.15">***</text>
<polyline points="270.5,224.79999999999998 270.5,223.6 296.6,223.6 296.6,224.79999999999998" fill="none" stroke="#777" stroke-width="0.8"/>
<text x="283.95" y="223.6" font-size="6.2" text-anchor="middle" fill="#222" stroke="#222" stroke-width="0.15">*</text>
<line x1="191" y1="191.9" x2="191" y2="274.1" stroke="#333" stroke-width="1.4"/>
<line x1="188.7" y1="273.6" x2="191" y2="273.6" stroke="#111" stroke-width="0.9"/>
<text x="188" y="275.8" font-size="6.6" text-anchor="end" fill="#3a3a3a" stroke="#3a3a3a" stroke-width="0.05">1.0</text>
<line x1="188.7" y1="253.175" x2="191" y2="253.175" stroke="#111" stroke-width="0.9"/>
<text x="188" y="255.375" font-size="6.6" text-anchor="end" fill="#3a3a3a" stroke="#3a3a3a" stroke-width="0.05">1.5</text>
<line x1="188.7" y1="232.75" x2="191" y2="232.75" stroke="#111" stroke-width="0.9"/>
<text x="188" y="234.95" font-size="6.6" text-anchor="end" fill="#3a3a3a" stroke="#3a3a3a" stroke-width="0.05">2.0</text>
<line x1="188.7" y1="212.32500000000002" x2="191" y2="212.32500000000002" stroke="#111" stroke-width="0.9"/>
<text x="188" y="214.525" font-size="6.6" text-anchor="end" fill="#3a3a3a" stroke="#3a3a3a" stroke-width="0.05">2.5</text>
<line x1="188.7" y1="191.9" x2="191" y2="191.9" stroke="#111" stroke-width="0.9"/>
<text x="188" y="194.1" font-size="6.6" text-anchor="end" fill="#3a3a3a" stroke="#3a3a3a" stroke-width="0.05">3.0</text>
<line x1="210" y1="273.6" x2="210" y2="275.20000000000005" stroke="#111" stroke-width="0.9"/>
<line x1="238.5" y1="273.6" x2="238.5" y2="275.20000000000005" stroke="#111" stroke-width="0.9"/>
<line x1="267.4" y1="273.6" x2="267.4" y2="275.20000000000005" stroke="#111" stroke-width="0.9"/>
<line x1="295.9" y1="273.6" x2="295.9" y2="275.20000000000005" stroke="#111" stroke-width="0.9"/>
<path d="M202,273.6 L202,243.3 L218.4,243.3 L218.4,273.6" fill="#fff" stroke="#000" stroke-width="1.7" stroke-linejoin="miter"/>
<path d="M229.9,273.6 L229.9,221.7 L247.1,221.7 L247.1,273.6" fill="#fff" stroke="#aaa" stroke-width="1.25" stroke-linejoin="miter"/>
<path d="M258.7,273.6 L258.7,244.5 L276.3,244.5 L276.3,273.6" fill="#fff" stroke="#888" stroke-width="1.25" stroke-linejoin="miter"/>
<path d="M287.5,273.6 L287.5,231.9 L304.6,231.9 L304.6,273.6" fill="#fff" stroke="#111" stroke-width="1.7" stroke-linejoin="miter"/>
<line x1="191" y1="273.6" x2="314" y2="273.6" stroke="#333" stroke-width="1.1"/>
<line x1="210" y1="239.8" x2="210" y2="246.1" stroke="#222" stroke-width="1.0"/>
<line x1="205.8" y1="239.8" x2="214.2" y2="239.8" stroke="#222" stroke-width="1.0"/>
<line x1="205.8" y1="246.1" x2="214.2" y2="246.1" stroke="#222" stroke-width="1.0"/>
<circle cx="210" cy="237" r="1.7" fill="#000"/>
<circle cx="202.4" cy="242.3" r="1.7" fill="#000"/>
<circle cx="218.3" cy="241.9" r="1.7" fill="#000"/>
<circle cx="202.4" cy="246.1" r="1.7" fill="#000"/>
<circle cx="210" cy="244.9" r="1.7" fill="#000"/>
<circle cx="218.3" cy="244.7" r="1.7" fill="#000"/>
<line x1="238.5" y1="207" x2="238.5" y2="235.1" stroke="#222" stroke-width="1.0"/>
<line x1="234.3" y1="207" x2="242.7" y2="207" stroke="#222" stroke-width="1.0"/>
<line x1="234.3" y1="235.1" x2="242.7" y2="235.1" stroke="#222" stroke-width="1.0"/>
<circle cx="235.2" cy="207.5" r="1.7" fill="#000"/>
<circle cx="242.3" cy="206.75" r="1.7" fill="#000"/>
<circle cx="238.5" cy="217.1" r="1.7" fill="#000"/>
<circle cx="238.5" cy="222.5" r="1.7" fill="#000"/>
<circle cx="238.5" cy="228.6" r="1.7" fill="#000"/>
<circle cx="238.5" cy="243.9" r="1.7" fill="#000"/>
<line x1="267.4" y1="234.4" x2="267.4" y2="253" stroke="#222" stroke-width="1.0"/>
<line x1="263.2" y1="234.4" x2="271.59999999999997" y2="234.4" stroke="#222" stroke-width="1.0"/>
<line x1="263.2" y1="253" x2="271.59999999999997" y2="253" stroke="#222" stroke-width="1.0"/>
<circle cx="263.6" cy="233.9" r="1.7" fill="#000"/>
<circle cx="270.7" cy="233.9" r="1.7" fill="#000"/>
<circle cx="267.4" cy="241.1" r="1.7" fill="#000"/>
<circle cx="267.4" cy="247.2" r="1.7" fill="#000"/>
<circle cx="267.4" cy="251.4" r="1.7" fill="#000"/>
<circle cx="267.4" cy="256.1" r="1.7" fill="#000"/>
<line x1="295.9" y1="226.4" x2="295.9" y2="235.2" stroke="#222" stroke-width="1.0"/>
<line x1="291.7" y1="226.4" x2="300.09999999999997" y2="226.4" stroke="#222" stroke-width="1.0"/>
<line x1="291.7" y1="235.2" x2="300.09999999999997" y2="235.2" stroke="#222" stroke-width="1.0"/>
<circle cx="295.9" cy="228.6" r="1.7" fill="#000"/>
<circle cx="288.1" cy="229.5" r="1.7" fill="#000"/>
<circle cx="303.7" cy="225.1" r="1.7" fill="#000"/>
<circle cx="303.7" cy="230" r="1.7" fill="#000"/>
<circle cx="291.6" cy="237.5" r="1.7" fill="#000"/>
<circle cx="299.6" cy="237" r="1.7" fill="#000"/>
<text x="173.6" y="231.4" font-size="6.6" text-anchor="middle" fill="#222" stroke="#222" stroke-width="0.06" transform="rotate(-90 173.6 231.4)">corticosterone(mmol/mL)</text>
<text x="212.2" y="281.2" font-size="7.0" text-anchor="end" fill="#111" stroke="#111" stroke-width="0.25" transform="rotate(-45 212.2 281.2)">C</text>
<text x="240.7" y="281.2" font-size="7.0" text-anchor="end" fill="#111" stroke="#111" stroke-width="0.25" transform="rotate(-45 240.7 281.2)">IA</text>
<text x="269.6" y="281.2" font-size="7.0" text-anchor="end" fill="#111" stroke="#111" stroke-width="0.25" transform="rotate(-45 269.6 281.2)">aVNS</text>
<text x="298.1" y="281.2" font-size="7.0" text-anchor="end" fill="#111" stroke="#111" stroke-width="0.25" transform="rotate(-45 298.1 281.2)">sham-aVNS</text>
<text x="4.2" y="312.0" font-size="9" text-anchor="start" font-weight="bold" fill="#000">E</text>
<line x1="34.3" y1="325.1" x2="34.3" y2="404.0" stroke="#111" stroke-width="1.1"/>
<line x1="33.8" y1="403.5" x2="152.75" y2="403.5" stroke="#111" stroke-width="1.1"/>
<line x1="31.999999999999996" y1="403.5" x2="34.3" y2="403.5" stroke="#111" stroke-width="0.9"/>
<text x="31.499999999999996" y="405.8" font-size="6.4" text-anchor="end" font-weight="bold" fill="#111">0</text>
<line x1="31.999999999999996" y1="383.9" x2="34.3" y2="383.9" stroke="#111" stroke-width="0.9"/>
<text x="31.499999999999996" y="386.2" font-size="6.4" text-anchor="end" font-weight="bold" fill="#111">50</text>
<line x1="31.999999999999996" y1="364.3" x2="34.3" y2="364.3" stroke="#111" stroke-width="0.9"/>
<text x="31.499999999999996" y="366.6" font-size="6.4" text-anchor="end" font-weight="bold" fill="#111">100</text>
<line x1="31.999999999999996" y1="344.70000000000005" x2="34.3" y2="344.70000000000005" stroke="#111" stroke-width="0.9"/>
<text x="31.499999999999996" y="347.00000000000006" font-size="6.4" text-anchor="end" font-weight="bold" fill="#111">150</text>
<line x1="31.999999999999996" y1="325.1" x2="34.3" y2="325.1" stroke="#111" stroke-width="0.9"/>
<text x="31.499999999999996" y="327.40000000000003" font-size="6.4" text-anchor="end" font-weight="bold" fill="#111">200</text>
<line x1="34.3" y1="403.5" x2="34.3" y2="405.5" stroke="#111" stroke-width="0.9"/>
<text x="34.3" y="412.4" font-size="6.4" text-anchor="middle" font-weight="bold" fill="#111">0</text>
<line x1="57.989999999999995" y1="403.5" x2="57.989999999999995" y2="405.5" stroke="#111" stroke-width="0.9"/>
<text x="57.989999999999995" y="412.4" font-size="6.4" text-anchor="middle" font-weight="bold" fill="#111">50</text>
<line x1="81.68" y1="403.5" x2="81.68" y2="405.5" stroke="#111" stroke-width="0.9"/>
<text x="81.68" y="412.4" font-size="6.4" text-anchor="middle" font-weight="bold" fill="#111">100</text>
<line x1="105.37" y1="403.5" x2="105.37" y2="405.5" stroke="#111" stroke-width="0.9"/>
<text x="105.37" y="412.4" font-size="6.4" text-anchor="middle" font-weight="bold" fill="#111">150</text>
<line x1="129.06" y1="403.5" x2="129.06" y2="405.5" stroke="#111" stroke-width="0.9"/>
<text x="129.06" y="412.4" font-size="6.4" text-anchor="middle" font-weight="bold" fill="#111">200</text>
<line x1="152.75" y1="403.5" x2="152.75" y2="405.5" stroke="#111" stroke-width="0.9"/>
<text x="152.75" y="412.4" font-size="6.4" text-anchor="middle" font-weight="bold" fill="#111">250</text>
<line x1="49.75" y1="351" x2="141.6" y2="370.3" stroke="#222" stroke-width="0.9"/>
<circle cx="49.75" cy="348.1" r="1.75" fill="#000"/>
<circle cx="65.7" cy="343.4" r="1.75" fill="#000"/>
<circle cx="71.9" cy="352.8" r="1.75" fill="#000"/>
<circle cx="70.9" cy="355.6" r="1.75" fill="#000"/>
<circle cx="78.4" cy="354.7" r="1.75" fill="#000"/>
<circle cx="75.3" cy="360.9" r="1.75" fill="#000"/>
<circle cx="78.4" cy="359.4" r="1.75" fill="#000"/>
<circle cx="87.4" cy="350.4" r="1.75" fill="#000"/>
<circle cx="90.6" cy="359.4" r="1.75" fill="#000"/>
<circle cx="91.6" cy="361.3" r="1.75" fill="#000"/>
<circle cx="95.9" cy="356" r="1.75" fill="#000"/>
<circle cx="96.6" cy="357.1" r="1.75" fill="#000"/>
<circle cx="85.6" cy="366" r="1.75" fill="#000"/>
<circle cx="85.6" cy="371.2" r="1.75" fill="#000"/>
<circle cx="94.8" cy="364.6" r="1.75" fill="#000"/>
<circle cx="97.2" cy="365" r="1.75" fill="#000"/>
<circle cx="99" cy="367.8" r="1.75" fill="#000"/>
<circle cx="103.1" cy="353.2" r="1.75" fill="#000"/>
<circle cx="106" cy="360.3" r="1.75" fill="#000"/>
<circle cx="111.6" cy="358.1" r="1.75" fill="#000"/>
<circle cx="102.2" cy="363.1" r="1.75" fill="#000"/>
<circle cx="103.1" cy="368.4" r="1.75" fill="#000"/>
<circle cx="107.8" cy="368.8" r="1.75" fill="#000"/>
<circle cx="141.6" cy="366" r="1.75" fill="#000"/>
<text x="39.8" y="314.4" font-size="7.0" text-anchor="start" fill="#222" stroke="#222" stroke-width="0.12" textLength="56.3" lengthAdjust="spacingAndGlyphs">Pearson correlation</text>
<text x="39.8" y="322.0" font-size="7.0" text-anchor="start" fill="#222" stroke="#222" stroke-width="0.12">r=-0.5649</text>
<text x="39.8" y="328.8" font-size="7.0" text-anchor="start" fill="#222" stroke="#222" stroke-width="0.12" textLength="39.6" lengthAdjust="spacingAndGlyphs"><tspan font-style="italic">p</tspan>-value=0.004</text>
<text x="17.8" y="363.8" font-size="6.5" text-anchor="middle" fill="#222" stroke="#222" stroke-width="0.1" transform="rotate(-90 17.8 363.8)">ACTH(pg/mL)</text>
<text x="93.5" y="421.8" font-size="6.8" text-anchor="middle" fill="#222" stroke="#222" stroke-width="0.25" textLength="46.8" lengthAdjust="spacingAndGlyphs">Horizontal score</text>
<text x="158.6" y="312.3" font-size="9" text-anchor="start" font-weight="bold" fill="#000">F</text>
<line x1="194.2" y1="325.2" x2="194.2" y2="404.7" stroke="#111" stroke-width="1.1"/>
<line x1="193.7" y1="404.2" x2="312" y2="404.2" stroke="#111" stroke-width="1.1"/>
<line x1="191.89999999999998" y1="404.2" x2="194.2" y2="404.2" stroke="#111" stroke-width="0.9"/>
<text x="191.39999999999998" y="406.5" font-size="6.4" text-anchor="end" font-weight="bold" fill="#111">1.0</text>
<line x1="191.89999999999998" y1="384.45" x2="194.2" y2="384.45" stroke="#111" stroke-width="0.9"/>
<text x="191.39999999999998" y="386.75" font-size="6.4" text-anchor="end" font-weight="bold" fill="#111">1.5</text>
<line x1="191.89999999999998" y1="364.7" x2="194.2" y2="364.7" stroke="#111" stroke-width="0.9"/>
<text x="191.39999999999998" y="367.0" font-size="6.4" text-anchor="end" font-weight="bold" fill="#111">2.0</text>
<line x1="191.89999999999998" y1="344.95" x2="194.2" y2="344.95" stroke="#111" stroke-width="0.9"/>
<text x="191.39999999999998" y="347.25" font-size="6.4" text-anchor="end" font-weight="bold" fill="#111">2.5</text>
<line x1="191.89999999999998" y1="325.2" x2="194.2" y2="325.2" stroke="#111" stroke-width="0.9"/>
<text x="191.39999999999998" y="327.5" font-size="6.4" text-anchor="end" font-weight="bold" fill="#111">3.0</text>
<line x1="194.2" y1="404.2" x2="194.2" y2="406.2" stroke="#111" stroke-width="0.9"/>
<text x="194.2" y="413.09999999999997" font-size="6.4" text-anchor="middle" font-weight="bold" fill="#111">0</text>
<line x1="217.76" y1="404.2" x2="217.76" y2="406.2" stroke="#111" stroke-width="0.9"/>
<text x="217.76" y="413.09999999999997" font-size="6.4" text-anchor="middle" font-weight="bold" fill="#111">50</text>
<line x1="241.32" y1="404.2" x2="241.32" y2="406.2" stroke="#111" stroke-width="0.9"/>
<text x="241.32" y="413.09999999999997" font-size="6.4" text-anchor="middle" font-weight="bold" fill="#111">100</text>
<line x1="264.88" y1="404.2" x2="264.88" y2="406.2" stroke="#111" stroke-width="0.9"/>
<text x="264.88" y="413.09999999999997" font-size="6.4" text-anchor="middle" font-weight="bold" fill="#111">150</text>
<line x1="288.44" y1="404.2" x2="288.44" y2="406.2" stroke="#111" stroke-width="0.9"/>
<text x="288.44" y="413.09999999999997" font-size="6.4" text-anchor="middle" font-weight="bold" fill="#111">200</text>
<line x1="312.0" y1="404.2" x2="312.0" y2="406.2" stroke="#111" stroke-width="0.9"/>
<text x="312.0" y="413.09999999999997" font-size="6.4" text-anchor="middle" font-weight="bold" fill="#111">250</text>
<line x1="209.75" y1="349.7" x2="301.25" y2="386.4" stroke="#222" stroke-width="0.9"/>
<circle cx="209.4" cy="340.3" r="1.75" fill="#000"/>
<circle cx="225.7" cy="339.4" r="1.75" fill="#000"/>
<circle cx="238.5" cy="349.1" r="1.75" fill="#000"/>
<circle cx="231" cy="354.4" r="1.75" fill="#000"/>
<circle cx="232" cy="360.5" r="1.75" fill="#000"/>
<circle cx="235.5" cy="360.5" r="1.75" fill="#000"/>
<circle cx="238" cy="368" r="1.75" fill="#000"/>
<circle cx="247" cy="361.25" r="1.75" fill="#000"/>
<circle cx="251.25" cy="361.25" r="1.75" fill="#000"/>
<circle cx="263" cy="357.5" r="1.75" fill="#000"/>
<circle cx="262" cy="365.5" r="1.75" fill="#000"/>
<circle cx="250" cy="368.75" r="1.75" fill="#000"/>
<circle cx="256.25" cy="368.75" r="1.75" fill="#000"/>
<circle cx="245.5" cy="375.5" r="1.75" fill="#000"/>
<circle cx="245.5" cy="377" r="1.75" fill="#000"/>
<circle cx="254.5" cy="373.75" r="1.75" fill="#000"/>
<circle cx="258.75" cy="373" r="1.75" fill="#000"/>
<circle cx="257" cy="378" r="1.75" fill="#000"/>
<circle cx="263" cy="376.25" r="1.75" fill="#000"/>
<circle cx="271.25" cy="372.5" r="1.75" fill="#000"/>
<circle cx="267.5" cy="382" r="1.75" fill="#000"/>
<circle cx="265.75" cy="386.25" r="1.75" fill="#000"/>
<circle cx="301.25" cy="365.3" r="1.75" fill="#000"/>
<text x="199.8" y="314.4" font-size="7.0" text-anchor="start" fill="#222" stroke="#222" stroke-width="0.12" textLength="56.3" lengthAdjust="spacingAndGlyphs">Pearson correlation</text>
<text x="199.8" y="322.0" font-size="7.0" text-anchor="start" fill="#222" stroke="#222" stroke-width="0.12">r=-0.609</text>
<text x="199.8" y="328.8" font-size="7.0" text-anchor="start" fill="#222" stroke="#222" stroke-width="0.12" textLength="43.9" lengthAdjust="spacingAndGlyphs"><tspan font-style="italic">p</tspan>-value=0.0016</text>
<text x="178.9" y="363.8" font-size="6.33" text-anchor="middle" fill="#222" stroke="#222" stroke-width="0.1" transform="rotate(-90 178.9 363.8)">corticosterone(mmol/mL)</text>
<text x="253.5" y="421.8" font-size="6.8" text-anchor="middle" fill="#222" stroke="#222" stroke-width="0.25" textLength="46.8" lengthAdjust="spacingAndGlyphs">Horizontal score</text>
<text x="4.8" y="432.6" font-size="9" text-anchor="start" font-weight="bold" fill="#000">G</text>
<line x1="35" y1="449" x2="35" y2="527.5" stroke="#111" stroke-width="1.1"/>
<line x1="34.5" y1="527" x2="153.4" y2="527" stroke="#111" stroke-width="1.1"/>
<line x1="32.7" y1="527.0" x2="35" y2="527.0" stroke="#111" stroke-width="0.9"/>
<text x="32.2" y="529.3" font-size="6.4" text-anchor="end" fill="#333" stroke="#333" stroke-width="0.06">0</text>
<line x1="32.7" y1="507.5" x2="35" y2="507.5" stroke="#111" stroke-width="0.9"/>
<text x="32.2" y="509.8" font-size="6.4" text-anchor="end" fill="#333" stroke="#333" stroke-width="0.06">50</text>
<line x1="32.7" y1="488.0" x2="35" y2="488.0" stroke="#111" stroke-width="0.9"/>
<text x="32.2" y="490.3" font-size="6.4" text-anchor="end" fill="#333" stroke="#333" stroke-width="0.06">100</text>
<line x1="32.7" y1="468.5" x2="35" y2="468.5" stroke="#111" stroke-width="0.9"/>
<text x="32.2" y="470.8" font-size="6.4" text-anchor="end" fill="#333" stroke="#333" stroke-width="0.06">150</text>
<line x1="32.7" y1="449.0" x2="35" y2="449.0" stroke="#111" stroke-width="0.9"/>
<text x="32.2" y="451.3" font-size="6.4" text-anchor="end" fill="#333" stroke="#333" stroke-width="0.06">200</text>
<line x1="35.0" y1="527" x2="35.0" y2="529.0" stroke="#111" stroke-width="0.9"/>
<text x="35.0" y="536.5" font-size="6.4" text-anchor="middle" fill="#333" stroke="#333" stroke-width="0.06">0</text>
<line x1="74.46666666666667" y1="527" x2="74.46666666666667" y2="529.0" stroke="#111" stroke-width="0.9"/>
<text x="74.46666666666667" y="536.5" font-size="6.4" text-anchor="middle" fill="#333" stroke="#333" stroke-width="0.06">10</text>
<line x1="113.93333333333334" y1="527" x2="113.93333333333334" y2="529.0" stroke="#111" stroke-width="0.9"/>
<text x="113.93333333333334" y="536.5" font-size="6.4" text-anchor="middle" fill="#333" stroke="#333" stroke-width="0.06">20</text>
<line x1="153.40000000000003" y1="527" x2="153.40000000000003" y2="529.0" stroke="#111" stroke-width="0.9"/>
<text x="153.40000000000003" y="536.5" font-size="6.4" text-anchor="middle" fill="#333" stroke="#333" stroke-width="0.06">30</text>
<line x1="58.75" y1="475.4" x2="145.3" y2="492.3" stroke="#222" stroke-width="0.9"/>
<circle cx="58.75" cy="479.1" r="1.75" fill="#000"/>
<circle cx="62.9" cy="476.5" r="1.75" fill="#000"/>
<circle cx="66.8" cy="467.5" r="1.75" fill="#000"/>
<circle cx="70.6" cy="483.5" r="1.75" fill="#000"/>
<circle cx="78.4" cy="479.7" r="1.75" fill="#000"/>
<circle cx="82.6" cy="472.2" r="1.75" fill="#000"/>
<circle cx="86.5" cy="484.2" r="1.75" fill="#000"/>
<circle cx="94.4" cy="477.4" r="1.75" fill="#000"/>
<circle cx="94.4" cy="490" r="1.75" fill="#000"/>
<circle cx="94.4" cy="491.9" r="1.75" fill="#000"/>
<circle cx="98.4" cy="474.1" r="1.75" fill="#000"/>
<circle cx="98.4" cy="479.7" r="1.75" fill="#000"/>
<circle cx="102.1" cy="485" r="1.75" fill="#000"/>
<circle cx="117.9" cy="481" r="1.75" fill="#000"/>
<circle cx="126" cy="482.1" r="1.75" fill="#000"/>
<circle cx="129.7" cy="484.4" r="1.75" fill="#000"/>
<circle cx="114.1" cy="488.5" r="1.75" fill="#000"/>
<circle cx="117.9" cy="487.2" r="1.75" fill="#000"/>
<circle cx="126" cy="490" r="1.75" fill="#000"/>
<circle cx="117.9" cy="492.3" r="1.75" fill="#000"/>
<circle cx="122.2" cy="492.8" r="1.75" fill="#000"/>
<circle cx="126" cy="495.3" r="1.75" fill="#000"/>
<circle cx="145.7" cy="489.5" r="1.75" fill="#000"/>
<text x="40.4" y="438.8" font-size="7.0" text-anchor="start" fill="#222" stroke="#222" stroke-width="0.1" textLength="56.6" lengthAdjust="spacingAndGlyphs">Pearson correlation</text>
<text x="40.4" y="445.8" font-size="7.0" text-anchor="start" fill="#222" stroke="#222" stroke-width="0.1">r=-0.626</text>
<text x="40.4" y="452.6" font-size="7.0" text-anchor="start" fill="#222" stroke="#222" stroke-width="0.1" textLength="42.4" lengthAdjust="spacingAndGlyphs"><tspan font-style="italic">p</tspan>-value=0.0011</text>
<text x="18.0" y="488.3" font-size="6.5" text-anchor="middle" fill="#333" stroke="#333" stroke-width="0.05" transform="rotate(-90 18.0 488.3)">ACTH(pg/mL)</text>
<text x="94.4" y="546.1" font-size="6.8" text-anchor="middle" fill="#222" stroke="#222" stroke-width="0.08" textLength="41.3" lengthAdjust="spacingAndGlyphs">vertical scores</text>
<text x="158.6" y="432.6" font-size="9" text-anchor="start" font-weight="bold" fill="#000">H</text>
<line x1="194.9" y1="449" x2="194.9" y2="527.7" stroke="#111" stroke-width="1.1"/>
<line x1="194.4" y1="527.2" x2="312.8" y2="527.2" stroke="#111" stroke-width="1.1"/>
<line x1="192.6" y1="527.2" x2="194.9" y2="527.2" stroke="#111" stroke-width="0.9"/>
<text x="192.1" y="529.5" font-size="6.4" text-anchor="end" fill="#333" stroke="#333" stroke-width="0.06">1.0</text>
<line x1="192.6" y1="507.65000000000003" x2="194.9" y2="507.65000000000003" stroke="#111" stroke-width="0.9"/>
<text x="192.1" y="509.95000000000005" font-size="6.4" text-anchor="end" fill="#333" stroke="#333" stroke-width="0.06">1.5</text>
<line x1="192.6" y1="488.1" x2="194.9" y2="488.1" stroke="#111" stroke-width="0.9"/>
<text x="192.1" y="490.40000000000003" font-size="6.4" text-anchor="end" fill="#333" stroke="#333" stroke-width="0.06">2.0</text>
<line x1="192.6" y1="468.55" x2="194.9" y2="468.55" stroke="#111" stroke-width="0.9"/>
<text x="192.1" y="470.85" font-size="6.4" text-anchor="end" fill="#333" stroke="#333" stroke-width="0.06">2.5</text>
<line x1="192.6" y1="449.0" x2="194.9" y2="449.0" stroke="#111" stroke-width="0.9"/>
<text x="192.1" y="451.3" font-size="6.4" text-anchor="end" fill="#333" stroke="#333" stroke-width="0.06">3.0</text>
<line x1="194.9" y1="527.2" x2="194.9" y2="529.2" stroke="#111" stroke-width="0.9"/>
<text x="194.9" y="536.7" font-size="6.4" text-anchor="middle" fill="#333" stroke="#333" stroke-width="0.06">0</text>
<line x1="234.20000000000002" y1="527.2" x2="234.20000000000002" y2="529.2" stroke="#111" stroke-width="0.9"/>
<text x="234.20000000000002" y="536.7" font-size="6.4" text-anchor="middle" fill="#333" stroke="#333" stroke-width="0.06">10</text>
<line x1="273.5" y1="527.2" x2="273.5" y2="529.2" stroke="#111" stroke-width="0.9"/>
<text x="273.5" y="536.7" font-size="6.4" text-anchor="middle" fill="#333" stroke="#333" stroke-width="0.06">20</text>
<line x1="312.8" y1="527.2" x2="312.8" y2="529.2" stroke="#111" stroke-width="0.9"/>
<text x="312.8" y="536.7" font-size="6.4" text-anchor="middle" fill="#333" stroke="#333" stroke-width="0.06">30</text>
<line x1="218.4" y1="476" x2="305.3" y2="505.6" stroke="#222" stroke-width="0.9"/>
<circle cx="218.4" cy="473.4" r="1.75" fill="#000"/>
<circle cx="226.5" cy="463.4" r="1.75" fill="#000"/>
<circle cx="242.3" cy="464" r="1.75" fill="#000"/>
<circle cx="222.75" cy="484.5" r="1.75" fill="#000"/>
<circle cx="230.6" cy="485.4" r="1.75" fill="#000"/>
<circle cx="246.6" cy="484.5" r="1.75" fill="#000"/>
<circle cx="254.1" cy="481.3" r="1.75" fill="#000"/>
<circle cx="258.2" cy="478.5" r="1.75" fill="#000"/>
<circle cx="258.2" cy="485.4" r="1.75" fill="#000"/>
<circle cx="246.6" cy="492.5" r="1.75" fill="#000"/>
<circle cx="262.2" cy="493.1" r="1.75" fill="#000"/>
<circle cx="238.5" cy="499.5" r="1.75" fill="#000"/>
<circle cx="254.1" cy="497.2" r="1.75" fill="#000"/>
<circle cx="254.1" cy="500" r="1.75" fill="#000"/>
<circle cx="277.8" cy="489.3" r="1.75" fill="#000"/>
<circle cx="277.8" cy="492.5" r="1.75" fill="#000"/>
<circle cx="285.7" cy="489.3" r="1.75" fill="#000"/>
<circle cx="285.7" cy="496.3" r="1.75" fill="#000"/>
<circle cx="274.1" cy="498.2" r="1.75" fill="#000"/>
<circle cx="277.8" cy="500.6" r="1.75" fill="#000"/>
<circle cx="285.7" cy="501" r="1.75" fill="#000"/>
<circle cx="305.3" cy="502.2" r="1.75" fill="#000"/>
<circle cx="282" cy="505.8" r="1.75" fill="#000"/>
<circle cx="289.5" cy="510" r="1.75" fill="#000"/>
<text x="200.4" y="438.8" font-size="7.0" text-anchor="start" fill="#222" stroke="#222" stroke-width="0.1" textLength="56.6" lengthAdjust="spacingAndGlyphs">Pearson correlation</text>
<text x="200.4" y="445.8" font-size="7.0" text-anchor="start" fill="#222" stroke="#222" stroke-width="0.1">r=-0.681</text>
<text x="200.4" y="452.6" font-size="7.0" text-anchor="start" fill="#222" stroke="#222" stroke-width="0.1" textLength="43.3" lengthAdjust="spacingAndGlyphs"><tspan font-style="italic">p</tspan>-value=0.0002</text>
<text x="179.8" y="487.1" font-size="6.35" text-anchor="middle" fill="#333" stroke="#333" stroke-width="0.05" transform="rotate(-90 179.8 487.1)">corticosterone (mmol/mL)</text>
<text x="254.6" y="546.1" font-size="6.8" text-anchor="middle" fill="#222" stroke="#222" stroke-width="0.08" textLength="41.6" lengthAdjust="spacingAndGlyphs">vertical scores</text>
<text x="3.7" y="182.1" font-size="9" text-anchor="start" font-weight="bold" fill="#000">C</text>
<text x="158.1" y="178.2" font-size="9" text-anchor="start" font-weight="bold" fill="#000">D</text>
</g>
</svg>
</body></html>
